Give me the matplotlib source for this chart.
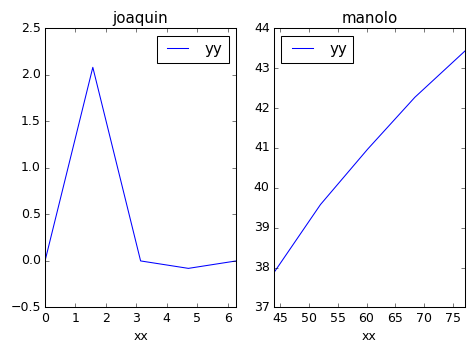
import matplotlib
matplotlib.use("Agg")
import matplotlib.pyplot as plt
import numpy as np

# left panel: joaquin
x_joaquin = [0.0, np.pi / 2, np.pi, 3 * np.pi / 2, 2 * np.pi]
y_joaquin = [0.0, 2.08, 0.0, -0.08, 0.0]

# right panel: manolo
x_manolo = [43.9, 52.0, 60.2, 68.4, 77.1]
y_manolo = [37.87, 39.58, 40.97, 42.27, 43.43]

plt.style.use("classic")

# 474x353 px at 75 dpi
fig, axes = plt.subplots(1, 2, figsize=(6.32, 4.7067), dpi=75)
fig.patch.set_facecolor("white")

panels = [("joaquin", x_joaquin, y_joaquin, "upper right"),
          ("manolo", x_manolo, y_manolo, "upper left")]

for ax, (title, xs, ys, loc) in zip(axes, panels):
    ax.plot(xs, ys, color="b", label="yy")
    ax.set_xlim(xs[0], xs[-1])
    ax.set_title(title)
    ax.set_xlabel("xx")
    ax.legend(loc=loc)

axes[0].set_ylim(-0.5, 2.5)
axes[1].set_ylim(37, 44)

plt.subplots_adjust(left=0.095, right=0.981, top=0.92, bottom=0.129, wspace=0.197)
fig.savefig("out.png", dpi=75, facecolor="white")
